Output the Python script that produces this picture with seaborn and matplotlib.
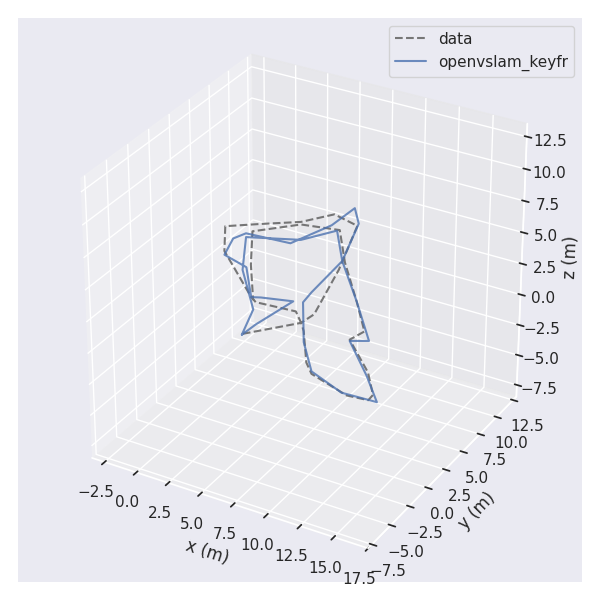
import matplotlib
matplotlib.use("Agg")
import matplotlib.pyplot as plt
import seaborn as sns
import numpy as np

sns.set_theme(style="darkgrid")

ref_x = [1.96, 6.5, 7.5, 9.35, 10.7, 9.0, 6.5, 3.4, 0.7, 0.6, 2.65, 3.0, 6.1, 6.5, 6.7, 6.9, 7.3, 10.0, 11.65, 12.0, 11.6, 10.2, 11.3, 10.7, 9.8, 9.4, 6.5, 2.8, 2.65, 2.8]
ref_y = [2.5] * 30
ref_z = [-2.4, -0.1, 0.9, 5.0, 8.8, 9.2, 7.9, 6.85, 5.9, 3.9, 0.8, 0.5, 0.7, -0.1, -0.7, -3.2, -4.0, -4.9, -4.75, -4.2, -2.5, -0.3, 0.7, 2.9, 5.7, 8.1, 7.7, 6.1, 3.4, 0.6]

est_x = [1.88, 3.0, 5.9, 3.4, 2.65, 2.3, 0.6, 1.3, 2.3, 5.7, 8.8, 10.5, 10.8, 9.6, 7.3, 6.65, 6.7, 7.3, 9.6, 12.3, 11.5, 10.2, 11.65, 10.7, 9.6, 9.2, 6.5, 2.3, 2.0, 2.8, 1.88]
est_y = [2.5] * 31
est_z = [-2.5, -1.3, 1.45, 1.0, 0.8, 3.1, 3.6, 5.1, 5.8, 6.0, 8.3, 10.1, 9.0, 5.75, 2.6, 1.6, -1.6, -3.8, -4.8, -4.7, -2.8, -0.4, 0.05, 2.9, 5.75, 8.0, 6.5, 5.5, 2.8, -0.15, -2.5]

fig = plt.figure(figsize=(6, 6), dpi=100)
ax = fig.add_axes([0.03, 0.03, 0.94, 0.94], projection="3d")
ax.set_box_aspect((1, 1, 1), zoom=0.95)
ax.plot(ref_x, ref_y, ref_z, "--", color="dimgray", alpha=0.9, label="data")
ax.plot(est_x, est_y, est_z, "-", color=sns.color_palette()[0], alpha=0.8, label="openvslam_keyfr")
ax.set_xlim(-3.5, 17.5)
ax.set_ylim(-8, 13)
ax.set_zlim(-8.5, 13.5)
ax.set_xticks(np.arange(-2.5, 17.6, 2.5))
ax.set_yticks(np.arange(-7.5, 12.6, 2.5))
ax.set_zticks(np.arange(-7.5, 12.6, 2.5))
ax.set_xlabel("x (m)")
ax.set_ylabel("y (m)")
ax.set_zlabel("z (m)")
ax.legend(loc="upper right", frameon=True)
fig.savefig("out.png", dpi=100)
